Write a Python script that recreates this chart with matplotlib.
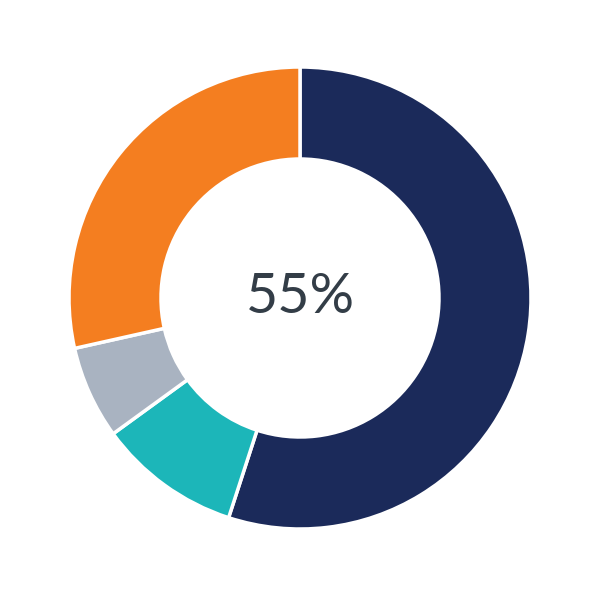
import matplotlib
matplotlib.use("Agg")
import matplotlib.pyplot as plt

labels = ["Navy", "Teal", "Gray", "Orange"]
values = [55, 10, 6.5, 28.5]
colors = ["#1b2a5a", "#1cb6b9", "#a9b3c1", "#f47e20"]
center_label = "55%"

fig = plt.figure(figsize=(6.0, 5.99), dpi=100)
ax = fig.add_axes([0, 0, 1, 1])
ax.pie(
    values,
    colors=colors,
    radius=231,
    center=(0, 1.5),
    startangle=90,
    counterclock=False,
    wedgeprops=dict(width=92, edgecolor="white", linewidth=2.5),
)
ax.text(0, 2, center_label, ha="center", va="center", fontsize=40,
        family="Lato", color="#333d47")
ax.set_xlim(-300, 300)
ax.set_ylim(-299.5, 299.5)
ax.set_aspect("equal")
ax.axis("off")
fig.savefig("out.png", dpi=100, facecolor="white")
